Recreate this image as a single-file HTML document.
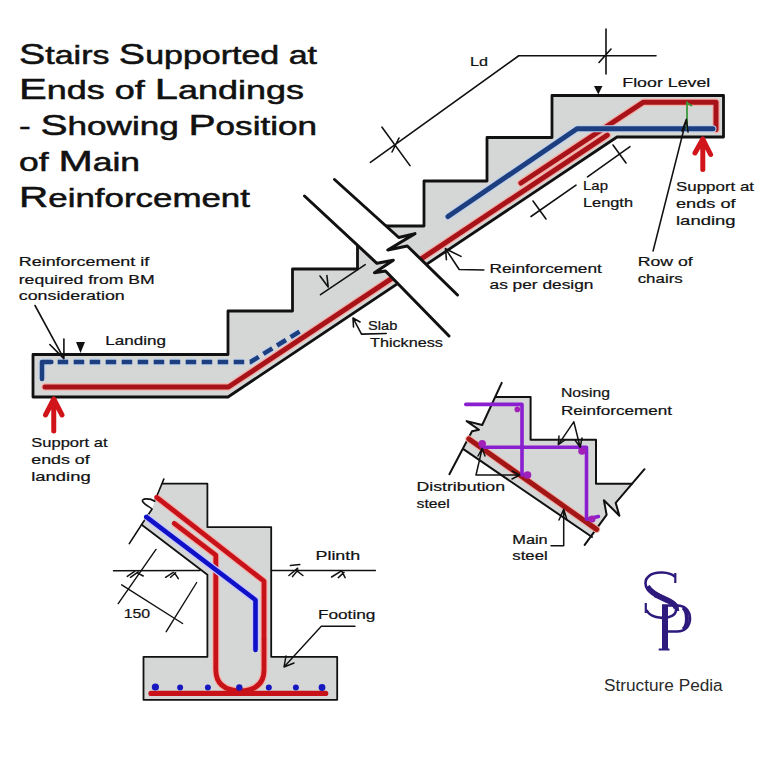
<!DOCTYPE html>
<html><head><meta charset="utf-8">
<style>
html,body{margin:0;padding:0;background:#fff;width:768px;height:768px;overflow:hidden}
svg{display:block}
text{font-family:"Liberation Sans",sans-serif;fill:#111;stroke:#111}
.t{font-size:25px;stroke-width:0.5px}
.s{font-size:13.5px;stroke-width:0.22px}
.k{stroke:#111;fill:none;stroke-linecap:round;stroke-linejoin:round}
</style></head><body>
<svg width="768" height="768" viewBox="0 0 768 768">
<rect width="768" height="768" fill="#fff"/>

<!-- TITLE -->
<text class="t" x="19" y="64" textLength="298" lengthAdjust="spacingAndGlyphs"><tspan style="font-size:29px">S</tspan>tairs <tspan style="font-size:29px">S</tspan>upported at</text>
<text class="t" x="19" y="99" textLength="285" lengthAdjust="spacingAndGlyphs"><tspan style="font-size:29px">E</tspan>nds of <tspan style="font-size:29px">L</tspan>andings</text>
<text class="t" x="19" y="135" textLength="298" lengthAdjust="spacingAndGlyphs">- <tspan style="font-size:29px">S</tspan>howing <tspan style="font-size:29px">P</tspan>osition</text>
<text class="t" x="19" y="171" textLength="121" lengthAdjust="spacingAndGlyphs">of <tspan style="font-size:29px">M</tspan>ain</text>
<text class="t" x="19" y="206.5" textLength="231" lengthAdjust="spacingAndGlyphs"><tspan style="font-size:29px">R</tspan>einforcement</text>

<!-- MAIN STAIR -->
<path d="M33 354.5 L228 354.5 L228 311 L292.5 311 L292.5 269 L357.5 269 L357.5 226 L424 226 L424 181 L487 181 L487 137.5 L552 137.5 L552 95.5 L723.5 95.5 L723.5 137 L617 137 L228 397 L33 397 Z" fill="#d5d6d6" stroke="#111" stroke-width="2.8" stroke-linejoin="round"/>

<!-- rebars main stair -->
<path d="M45 387 L228.4 387 L607.3 135.2" fill="none" stroke="#f3b0a8" stroke-width="7.5" stroke-linecap="round" stroke-linejoin="round"/>
<path d="M45 387 L228.4 387 L607.3 135.2" fill="none" stroke="#a8131a" stroke-width="5" stroke-linecap="round" stroke-linejoin="round"/>
<path d="M716 129.5 L716 102.2 L643.5 102.2 L521 183" fill="none" stroke="#f3b0a8" stroke-width="7.5" stroke-linecap="round" stroke-linejoin="round"/>
<path d="M716 129.5 L716 102.2 L643.5 102.2 L521 183" fill="none" stroke="#a8131a" stroke-width="5" stroke-linecap="round" stroke-linejoin="round"/>
<path d="M713 128.8 L577 128.8 L448 216.5" fill="none" stroke="#bcd0ee" stroke-width="7" stroke-linecap="round" stroke-linejoin="round"/>
<path d="M713 128.8 L577 128.8 L448 216.5" fill="none" stroke="#1d3f80" stroke-width="5" stroke-linecap="round" stroke-linejoin="round"/>
<path d="M42 379 L42 362 L51.4 362" fill="none" stroke="#bcd0ee" stroke-width="6.5" stroke-linejoin="round"/>
<path d="M57.7 362 L250.4 362 L300.5 331" fill="none" stroke="#bcd0ee" stroke-width="6.5" stroke-dasharray="10.5 5.5"/>
<path d="M42 379 L42 362 L51.4 362" fill="none" stroke="#1d3f80" stroke-width="4.5" stroke-linecap="round" stroke-linejoin="round"/>
<path d="M57.7 362 L250.4 362 L300.5 331" fill="none" stroke="#1d3f80" stroke-width="4.5" stroke-dasharray="10.5 5.5"/>
<!-- green chair -->
<path d="M687 101.5 L687 129.5 M687 103 L692 106" fill="none" stroke="#3b9a3b" stroke-width="1.8"/>

<!-- break band -->
<path d="M334.5 179.5 L398.75 237.5 L415 233.6 L387.8 250 L407.3 246 L457.5 295 L449 336 L385.5 271 L374.5 272.7 L393.3 260.2 L376.9 263.3 L304.5 196 Z" fill="#fff"/>
<path class="k" d="M334.5 179.5 L398.75 237.5 L415 233.6 L387.8 250 L407.3 246 L457.5 295" stroke-width="3"/>
<path class="k" d="M304.5 196 L376.9 263.3 L393.3 260.2 L374.5 272.7 L385.5 271 L449 336" stroke-width="3"/>

<!-- floor level triangle -->
<path d="M594 86 L602.5 86 L598.3 94.5 Z" fill="#111"/>
<path d="M76 342 L85 342 L80.5 353 Z" fill="#111"/>

<!-- Ld dimension -->
<path class="k" stroke-width="1.6" d="M370.4 162.3 L518.75 55.75 L656 55.75 M382 127.2 L410 165.6 M399 138 L392 152 M606 29 L606 74 M599 62.5 L611 49"/>
<text class="s" x="470" y="66" textLength="18" lengthAdjust="spacingAndGlyphs">Ld</text>
<text class="s" x="622.3" y="86.6" textLength="88" lengthAdjust="spacingAndGlyphs">Floor Level</text>

<!-- lap length -->
<path class="k" stroke-width="1.6" d="M630 146.7 L587.5 176.9 M576 185.2 L531 216.5 M613 145 L626 163 M533 201 L546 219"/>
<text class="s" x="583" y="189.8" textLength="25" lengthAdjust="spacingAndGlyphs">Lap</text>
<text class="s" x="583" y="207" textLength="50" lengthAdjust="spacingAndGlyphs">Length</text>

<!-- support arrows -->
<path d="M702.8 169.4 L702.8 139 M695 153 L702.8 139 L710.6 154.5" fill="none" stroke="#d0141a" stroke-width="5" stroke-linecap="round" stroke-linejoin="round"/>
<path d="M53.75 431 L53.75 399 M45.5 415 L53.75 399 L62 415" fill="none" stroke="#d0141a" stroke-width="5" stroke-linecap="round" stroke-linejoin="round"/>

<text class="s" x="676" y="190.8" textLength="78" lengthAdjust="spacingAndGlyphs">Support at</text>
<text class="s" x="676" y="207.6" textLength="59.6" lengthAdjust="spacingAndGlyphs">ends of</text>
<text class="s" x="676" y="224.9" textLength="59.6" lengthAdjust="spacingAndGlyphs">landing</text>

<!-- row of chairs leader -->
<path class="k" stroke-width="1.6" d="M686.4 119.4 L653.1 250.9 M682 131 L686.4 119.4 L688 132"/>
<text class="s" x="637.7" y="266.3" textLength="55" lengthAdjust="spacingAndGlyphs">Row of</text>
<text class="s" x="637.7" y="282.7" textLength="45" lengthAdjust="spacingAndGlyphs">chairs</text>

<!-- reinforcement as per design leader -->
<path class="k" stroke-width="1.6" d="M445.5 248.7 L459.2 269.5 L483.8 270 M445.5 248.7 L446.4 259.6 M445.5 248.7 L461 256.4"/>
<text class="s" x="489.5" y="272.6" textLength="112.3" lengthAdjust="spacingAndGlyphs">Reinforcement</text>
<text class="s" x="489.5" y="289.4" textLength="104" lengthAdjust="spacingAndGlyphs">as per design</text>

<!-- slab thickness -->
<path class="k" stroke-width="1.6" d="M320.5 294.7 L365.2 264.6 M328.2 286.9 L320 276 M328.2 286.9 L326.9 275.5"/>
<path class="k" stroke-width="1.6" d="M353 318 L361.5 334.1 L386.25 333.5 M353 318 L353.5 327 M353 318 L360 322"/>
<text class="s" x="368" y="330.2" textLength="29.3" lengthAdjust="spacingAndGlyphs">Slab</text>
<text class="s" x="370" y="346.5" textLength="72.9" lengthAdjust="spacingAndGlyphs">Thickness</text>

<!-- landing labels -->
<text class="s" x="18.75" y="265.8" textLength="130.5" lengthAdjust="spacingAndGlyphs">Reinforcement if</text>
<text class="s" x="18.75" y="283.5" textLength="136" lengthAdjust="spacingAndGlyphs">required from BM</text>
<text class="s" x="18.75" y="300.2" textLength="106" lengthAdjust="spacingAndGlyphs">consideration</text>
<path class="k" stroke-width="1.6" d="M35 305.5 L63.9 358.6 L49.8 344.5 M63.9 339 L63.9 358.6"/>
<text class="s" x="105.3" y="345" textLength="60.7" lengthAdjust="spacingAndGlyphs">Landing</text>

<text class="s" x="31.25" y="446.5" textLength="76.25" lengthAdjust="spacingAndGlyphs">Support at</text>
<text class="s" x="31.25" y="463.75" textLength="58.5" lengthAdjust="spacingAndGlyphs">ends of</text>
<text class="s" x="31.25" y="481" textLength="59.4" lengthAdjust="spacingAndGlyphs">landing</text>

<!-- FOOTING DETAIL -->
<path d="M162.5 483.7 L207.4 483.7 L207.4 527.2 L271.2 527.2 L271.2 656.8 L337.2 656.8 L337.2 699.8 L143.5 699.8 L143.5 656.8 L207.4 656.8 L207.4 574.7 L141.7 524.7 L152.1 509 L154.7 501.25 Z" fill="#d5d6d6" stroke="none"/>
<path class="k" stroke-width="1.8" d="M162.5 483.7 L207.4 483.7 L207.4 527.2 L271.2 527.2 L271.2 656.8 L337.2 656.8 L337.2 699.8 L143.5 699.8 L143.5 656.8 L207.4 656.8 L207.4 574.7 L141.7 524.7"/>
<path class="k" stroke-width="1.6" d="M163.8 479.1 L154.7 501.25 C 150 498 140 498 143 502 C 145 505 150 507 152.1 509 L 142 524 L129.3 543.6"/>
<path d="M156.7 497.3 L264 581.2 L264 656" fill="none" stroke="#f5b0a8" stroke-width="7" stroke-linejoin="round"/>
<path d="M156.7 497.3 L264 581.2 L264 656" fill="none" stroke="#c8121a" stroke-width="4.8" stroke-linecap="round" stroke-linejoin="round"/>
<path d="M174.2 523.4 L215.8 555.2 L215.8 670 Q 216 690 240 691 Q 264 690 264 670 L 264 640" fill="none" stroke="#f5b0a8" stroke-width="7" stroke-linejoin="round"/>
<path d="M174.2 523.4 L215.8 555.2 L215.8 670 Q 216 690 240 691 Q 264 690 264 670 L 264 640" fill="none" stroke="#c8121a" stroke-width="4.8" stroke-linecap="round" stroke-linejoin="round"/>
<path d="M146.25 516.9 L255.5 600 L255.5 650" fill="none" stroke="#c8c8ff" stroke-width="7" stroke-linejoin="round"/>
<path d="M146.25 516.9 L255.5 600 L255.5 650" fill="none" stroke="#1010c8" stroke-width="4.6" stroke-linecap="round" stroke-linejoin="round"/>
<path d="M151 693.4 L325.7 693.4" fill="none" stroke="#c8121a" stroke-width="5.2" stroke-linecap="round"/>
<g fill="#1818c0">
<circle cx="155.4" cy="687" r="3.6"/><circle cx="180.1" cy="687.5" r="3"/><circle cx="207.9" cy="687.5" r="3"/><circle cx="239.3" cy="687.5" r="3.2"/><circle cx="268.8" cy="687.5" r="3"/><circle cx="295.9" cy="687.5" r="3"/><circle cx="322" cy="687.5" r="3.4"/>
</g>
<path class="k" stroke-width="1.4" d="M113.5 570.8 L200 570.5 M271.2 570.5 L375.4 570.5"/>
<path class="k" stroke-width="1.5" d="M127.3 576.4 L134.6 571.4 M130.5 577.3 L138.2 571.9 M137.3 572.8 L143.2 576 M165.6 577.3 L173.3 572.3 M170.6 577.3 L175.6 572.8 M174.7 573.2 L178.3 578.7 M290.4 565.6 L299.8 564.6 M288.9 575.5 L297.7 568.2 M292.5 576.6 L298 570 M295.6 569.8 L302.9 575.5 M331.6 577 L341.5 570.8 M338.3 577.6 L344 572.4 M342 571.4 L345.1 577.6"/>
<path class="k" stroke-width="1.4" d="M156 549.4 L118.2 603.6 M196.7 582.5 L166.2 631.7 M121.7 584.8 L182.6 623.5"/>
<text class="s" x="123.7" y="617.7" textLength="26.5" lengthAdjust="spacingAndGlyphs">150</text>
<text class="s" x="315.5" y="560.3" textLength="44.7" lengthAdjust="spacingAndGlyphs">Plinth</text>
<text class="s" x="317.9" y="618.5" textLength="57.5" lengthAdjust="spacingAndGlyphs">Footing</text>
<path class="k" stroke-width="1.4" d="M355 626.3 L321.3 626.3 L284 667 M284 667 L286 656 M284 667 L294 663"/>

<!-- NOSING DETAIL -->
<path d="M495.5 396.9 L530.6 396.9 L530.6 439.8 L596 439.8 L596 483.8 L632 483.8 L615.7 502.9 L619.4 515.7 L603.9 500.2 L606.6 514.8 L592 537 L463.4 449.2 L472 431.25 L479 429.7 L466.6 421.1 L482.2 425 Z" fill="#d5d6d6"/>
<path class="k" stroke-width="2" d="M495.5 396.9 L530.6 396.9 L530.6 439.8 L596 439.8 L596 483.8 L632 483.8"/>
<path class="k" stroke-width="2" d="M463.4 449.2 L592 537"/>
<path class="k" stroke-width="2" d="M644.5 469.2 L615.7 502.9 L619.4 515.7 L603.9 500.2 L606.6 514.8 L584.7 544.9"/>
<path class="k" stroke-width="2" d="M501.7 382.8 L482.2 425 L466.6 421.1 L479 429.7 L472 431.25 L449.4 474.2"/>
<path d="M468.9 439 L596.6 529.4" fill="none" stroke="#f0a8a0" stroke-width="7" stroke-linecap="round"/>
<path d="M468.9 439 L596.6 529.4" fill="none" stroke="#a31616" stroke-width="5" stroke-linecap="round"/>
<path d="M465.8 404.4 L522 404.4 L522 475 L529 474" fill="none" stroke="#8a1fd0" stroke-width="3.6" stroke-linejoin="round" stroke-linecap="round"/>
<path d="M482.2 447.2 L586.5 447.2 L586.5 519.3 L598.4 516.6" fill="none" stroke="#8a1fd0" stroke-width="3.6" stroke-linejoin="round" stroke-linecap="round"/>
<g fill="#a020b8">
<circle cx="482.2" cy="443.75" r="3.8"/><circle cx="517.3" cy="409.4" r="2.8"/><circle cx="527.5" cy="475" r="3.8"/><circle cx="582" cy="451" r="3.8"/><circle cx="592" cy="519" r="3.5"/>
</g>
<text class="s" x="561" y="397.3" textLength="49" lengthAdjust="spacingAndGlyphs">Nosing</text>
<text class="s" x="561" y="414.6" textLength="111" lengthAdjust="spacingAndGlyphs">Reinforcement</text>
<path class="k" stroke-width="1.5" d="M573.8 421.8 L558.3 444.6 M573.8 421.8 L580.2 447.3 M558.3 444.6 L559 436 M558.3 444.6 L565 440 M580.2 447.3 L575 440 M580.2 447.3 L582 438"/>
<text class="s" x="416.5" y="490.8" textLength="88.5" lengthAdjust="spacingAndGlyphs">Distribution</text>
<text class="s" x="416.5" y="507.5" textLength="33.3" lengthAdjust="spacingAndGlyphs">steel</text>
<path class="k" stroke-width="1.5" d="M476 475 L482.2 448.4 M476 475 L519.7 475 M519.7 475 L512 471 M519.7 475 L512 479 M482.2 448.4 L478 456 M482.2 448.4 L485 456"/>
<text class="s" x="512.3" y="544" textLength="35.4" lengthAdjust="spacingAndGlyphs">Main</text>
<text class="s" x="512.3" y="559.6" textLength="35.4" lengthAdjust="spacingAndGlyphs">steel</text>
<path class="k" stroke-width="1.5" d="M551 545.8 L563.7 545.8 L563.7 509.3 M563.7 509.3 L559 520 M563.7 509.3 L567 520"/>

<!-- LOGO -->
<g fill="none" stroke="#2e1a7c" stroke-linecap="butt">
<path d="M675 577 C 670 571.5, 655 571, 649 576 C 642 582, 646 591, 655 595.5 L 668 601 C 678 605.5, 679 614, 669 617 C 661 619, 650 617.5, 646.5 610" stroke-width="2.6"/>
<path d="M648 586 C 652 593, 662 597, 669 600.5 C 674.5 603, 677.5 606, 677.5 611" stroke-width="3.6"/>
<path d="M655 594.5 C 660 597, 665 599, 669 601 C 673 603, 675.5 605, 676.5 608" stroke-width="5.8"/>
<path d="M675.3 573 L675.3 583" stroke-width="2.2"/>
<path d="M645.8 603 L645.8 613" stroke-width="2.2"/>
<path d="M665 605 L665 649" stroke-width="6"/>
<path d="M658.7 649.5 L669.5 649.5" stroke-width="2"/>
<path d="M662 605.5 L677 605.5 C 685 605.5, 690 611, 690 618.5 C 690 626, 685 631.5, 677 631.5 L 667 631.5" stroke-width="2.6"/>
<path d="M683 607.5 C 688 611, 688.5 626, 683 629.5" stroke-width="4"/>
</g>
<text x="604" y="691.25" style="font-size:16px;fill:#2a2a2a;stroke:none" textLength="118.7" lengthAdjust="spacingAndGlyphs">Structure Pedia</text>
</svg>
</body></html>
